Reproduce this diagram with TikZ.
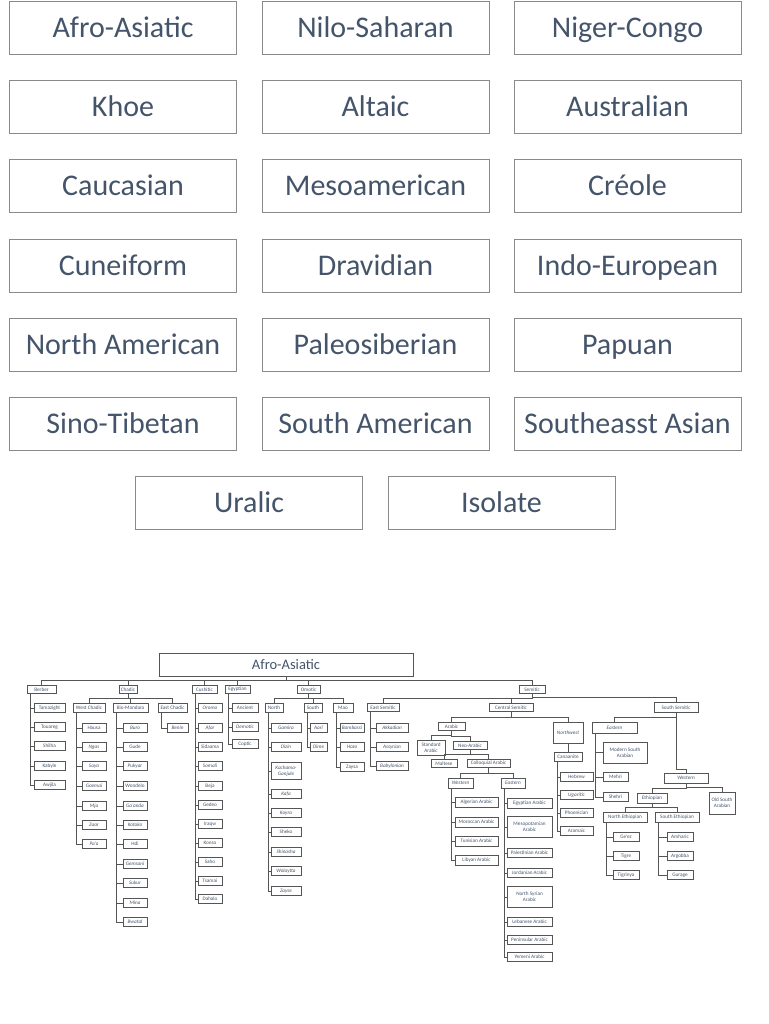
\documentclass[tikz,border=0pt]{standalone}
\usepackage{fontspec}
\setmainfont{Carlito}
\usepackage{tikz}
\usetikzlibrary{calc}
\definecolor{ink}{HTML}{44546A}
\definecolor{famline}{HTML}{8A8A8A}
\definecolor{treeline}{HTML}{555555}
\tikzset{
   fam/.style={draw=famline, line width=1pt, minimum width=227, minimum height=53,
      text height=23, text depth=4, font=\fontsize{30}{36}\selectfont, text=ink},
   top/.style={draw=treeline, line width=1pt, minimum width=254, minimum height=23,
      font=\fontsize{14.5}{17}\selectfont, text=ink},
   lang/.style={draw=treeline, line width=0.8pt, inner sep=0.5pt, minimum height=8.5,
      font=\fontsize{5.2}{6}\selectfont, text=ink, align=center},
   it/.style={lang, font=\fontsize{5.2}{6}\selectfont\itshape},
   link/.style={draw=treeline, line width=0.8pt},
   bus/.style={to path={(\tikztostart.south) |- ($(\tikztotarget.north)+(0,-4.5)$) -| (\tikztotarget.north)}},
   trunk/.style={to path={([xshift=4]\tikztostart.south west) |- (\tikztotarget.west)}}
}
\begin{document}
\begin{tikzpicture}[x=1pt,y=-1pt]
   \useasboundingbox (0,0) rectangle (768,1024);
   \node[fam] (afro) at (123,28.5) {Afro-Asiatic};
   \node[fam] (nilo) at (375.5,28.5) {Nilo-Saharan};
   \node[fam] (niger) at (627.5,28.5) {Niger-Congo};
   \node[fam] (khoe) at (123,107.5) {Khoe};
   \node[fam] (altaic) at (375.5,107.5) {Altaic};
   \node[fam] (austral) at (627.5,107.5) {Australian};
   \node[fam] (caucas) at (123,186.5) {Caucasian};
   \node[fam] (mesoam) at (375.5,186.5) {Mesoamerican};
   \node[fam] (creole) at (627.5,186.5) {Créole};
   \node[fam] (cunei) at (123,265.5) {Cuneiform};
   \node[fam] (dravid) at (375.5,265.5) {Dravidian};
   \node[fam] (indoeu) at (627.5,265.5) {Indo-European};
   \node[fam] (northam) at (123,344.5) {North American};
   \node[fam] (paleo) at (375.5,344.5) {Paleosiberian};
   \node[fam] (papuan) at (627.5,344.5) {Papuan};
   \node[fam] (sino) at (123,423.5) {Sino-Tibetan};
   \node[fam] (southam) at (375.5,423.5) {South American};
   \node[fam] (seasian) at (627.5,423.5) {Southeasst Asian};
   \node[fam] (uralic) at (249,502.5) {Uralic};
   \node[fam] (isolate) at (501.5,502.5) {Isolate};

   \node[top] (aa) at (286,664.5) {Afro-Asiatic};
   \node[lang,minimum width=29] (berber) at (41.5,689.5) {Berber};
   \node[lang,minimum width=18] (chadic) at (128,689.5) {Chadic};
   \node[lang,minimum width=25] (cushitic) at (204.5,689.5) {Cushitic};
   \node[lang,minimum width=25] (egyptian) at (237.5,689.5) {Egyptian};
   \node[lang,minimum width=23] (omotic) at (308.5,689.5) {Omotic};
   \node[lang,minimum width=26] (semitic) at (532,689.5) {Semitic};

   \node[lang,minimum width=31] (tamazight) at (49.5,708) {Tamazight};
   \node[lang,minimum width=31] (touareg) at (49.5,727) {Touareg};
   \node[lang,minimum width=31] (shilha) at (49.5,746) {Shilha};
   \node[lang,minimum width=31] (kabyle) at (49.5,766) {Kabyle};
   \node[lang,minimum width=31] (awjila) at (49.5,785) {Awjila};

   \node[lang,minimum width=32] (wchadic) at (89,708) {West Chadic};
   \node[lang,minimum width=35] (biomandara) at (130.5,708) {Bio-Mandara};
   \node[lang,minimum width=29] (echadic) at (172.5,708) {East Chadic};
   \node[lang,minimum width=24] (hausa) at (94,728) {Hausa};
   \node[it,minimum width=24] (ngas) at (94,747) {Ngas};
   \node[it,minimum width=24] (saya) at (94,766) {Saya};
   \node[it,minimum width=24] (goemai) at (94,786) {Goemai};
   \node[it,minimum width=24] (mja) at (94,806) {Mja};
   \node[it,minimum width=24] (zaar) at (94,825) {Zaar};
   \node[it,minimum width=24] (paa) at (94,844) {Pa'a};
   \node[it,minimum width=24] (buro) at (135,728) {Buro};
   \node[lang,minimum width=24] (gude) at (135,747) {Gude};
   \node[it,minimum width=24] (pukyar) at (135,766) {Pukyar};
   \node[lang,minimum width=24] (wondelo) at (135,786) {Wondelo};
   \node[it,minimum width=24] (gaanda) at (135,806) {Ga'anda};
   \node[it,minimum width=24] (kotoko) at (135,825) {Kotoko};
   \node[lang,minimum width=24] (hdi) at (135,844) {Hdi};
   \node[it,minimum width=24] (gemsani) at (135,864) {Gemsani};
   \node[it,minimum width=24] (sukur) at (135,883) {Sukur};
   \node[it,minimum width=24] (mina) at (135,903) {Mina};
   \node[it,minimum width=24] (bwatal) at (135,922) {Bwatal};
   \node[it,minimum width=21] (benin) at (177.5,728) {Benin};

   \node[it,minimum width=24] (oromo) at (210,708) {Oromo};
   \node[it,minimum width=24] (afar) at (210,728) {Afar};
   \node[lang,minimum width=24] (sidaama) at (210,747) {Sidaama};
   \node[it,minimum width=24] (somali) at (210,766) {Somali};
   \node[lang,minimum width=24] (beja) at (210,786) {Beja};
   \node[lang,minimum width=24] (gedeo) at (210,805) {Gedeo};
   \node[lang,minimum width=24] (iraqw) at (210,824) {Iraqw};
   \node[lang,minimum width=24] (konso) at (210,843) {Konso};
   \node[lang,minimum width=24] (saho) at (210,862) {Saho};
   \node[lang,minimum width=24] (tsamai) at (210,881) {Tsamai};
   \node[lang,minimum width=24] (dahalo) at (210,899) {Dahalo};

   \node[lang,minimum width=26] (ancient) at (245,708) {Ancient};
   \node[it,minimum width=26] (demotic) at (245,727) {Demotic};
   \node[lang,minimum width=26] (coptic) at (245,744) {Coptic};

   \node[lang,minimum width=18] (north) at (274,708) {North};
   \node[lang,minimum width=18] (south) at (313,708) {South};
   \node[lang,minimum width=20] (mao) at (343,708) {Mao};
   \node[it,minimum width=30] (gamira) at (286,728) {Gamira};
   \node[it,minimum width=30] (dizin) at (286,747) {Dizin};
   \node[it,minimum width=30,minimum height=17] (kachama) at (286,771) {Kachama-\\Ganjule};
   \node[it,minimum width=30] (kafa) at (286,794) {Kafa};
   \node[it,minimum width=30] (koyra) at (286,813) {Koyra};
   \node[lang,minimum width=30] (sheko) at (286,832) {Sheko};
   \node[it,minimum width=30] (shinasha) at (286,852) {Shinasha};
   \node[it,minimum width=30] (wolaytta) at (286,871) {Wolaytta};
   \node[it,minimum width=30] (zayse) at (286,891) {Zayse};
   \node[it,minimum width=17] (aari) at (318.5,728) {Aari};
   \node[it,minimum width=17] (dime) at (318.5,747) {Dime};
   \node[it,minimum width=24] (bambassi) at (352,728) {Bambassi};
   \node[it,minimum width=24] (hozo) at (352,747) {Hozo};
   \node[lang,minimum width=24] (zaysa) at (352,767) {Zaysa};

   \node[lang,minimum width=32] (esemitic) at (383,707.5) {East Semitic};
   \node[lang,minimum width=44] (csemitic) at (511,707.5) {Central Semitic};
   \node[lang,minimum width=44,minimum height=10] (ssemitic) at (676,707.5) {South Semitic};
   \node[it,minimum width=32] (akkadian) at (392,728) {Akkadian};
   \node[it,minimum width=32] (assyrian) at (392,747) {Assyrian};
   \node[it,minimum width=32] (babylonian) at (392,766) {Babylonian};

   \node[lang,minimum width=27] (arabic) at (451.5,726.5) {Arabic};
   \node[it,minimum width=30,minimum height=21] (northwest) at (568,732.5) {Northwest};
   \node[lang,minimum width=28,minimum height=15] (stdarabic) at (431,748) {Standard\\Arabic};
   \node[lang,minimum width=34] (neoarabic) at (470,745.5) {Neo-Arabic};
   \node[lang,minimum width=26] (maltese) at (444,763.5) {Maltese};
   \node[lang,minimum width=43] (colloquial) at (488.5,763.5) {Colloquial Arabic};
   \node[it,minimum width=25,minimum height=10] (western) at (460.5,783) {Western};
   \node[it,minimum width=24,minimum height=10] (eastern) at (513,783) {Eastern};
   \node[lang,minimum width=43,minimum height=10] (algerian) at (476.5,802) {Algerian Arabic};
   \node[lang,minimum width=43,minimum height=10] (moroccan) at (476.5,822) {Moroccan Arabic};
   \node[lang,minimum width=43,minimum height=10] (tunisian) at (476.5,841) {Tunisian Arabic};
   \node[lang,minimum width=43,minimum height=10] (libyan) at (476.5,860) {Libyan Arabic};
   \node[lang,minimum width=45,minimum height=10] (egyarabic) at (529.5,803) {Egyptian Arabic};
   \node[lang,minimum width=45,minimum height=21] (mesopot) at (529.5,827) {Mesopotamian\\Arabic};
   \node[lang,minimum width=45] (palestin) at (529.5,853) {Palestinian Arabic};
   \node[lang,minimum width=45] (jordan) at (529.5,873) {Jordanian Arabic};
   \node[lang,minimum width=45,minimum height=21] (nsyrian) at (529.5,897) {North Syrian\\Arabic};
   \node[lang,minimum width=45] (lebanese) at (529.5,922) {Lebanese Arabic};
   \node[lang,minimum width=45] (peninsul) at (529.5,940) {Peninsular Arabic};
   \node[lang,minimum width=45] (yemeni) at (529.5,957) {Yemeni Arabic};

   \node[lang,minimum width=28] (canaanite) at (568,757) {Canaanite};
   \node[lang,minimum width=33] (hebrew) at (576.5,777) {Hebrew};
   \node[it,minimum width=33] (ugaritic) at (576.5,795) {Ugaritic};
   \node[lang,minimum width=33] (phoenic) at (576.5,813) {Phoenician};
   \node[lang,minimum width=33] (aramaic) at (576.5,831) {Aramaic};

   \node[it,minimum width=45,minimum height=11] (sseastern) at (614.5,727.5) {Eastern};
   \node[it,minimum width=44,minimum height=10] (sswestern) at (686,778) {Western};
   \node[lang,minimum width=44,minimum height=21] (msarabian) at (625,752.5) {Modern South\\Arabian};
   \node[lang,minimum width=25] (mehri) at (615.5,777) {Mehri};
   \node[lang,minimum width=25] (shehri) at (615.5,797) {Shehri};
   \node[lang,minimum width=30,minimum height=10] (ethiopian) at (652,798) {Ethiopian};
   \node[lang,minimum width=26,minimum height=22] (osarabian) at (722,803) {Old South\\Arabian};
   \node[lang,minimum width=44,minimum height=10] (nethiop) at (625,817.5) {North Ethiopian};
   \node[lang,minimum width=44,minimum height=10] (sethiop) at (677,817.5) {South Ethiopian};
   \node[lang,minimum width=26] (geez) at (626,837) {Ge'ez};
   \node[lang,minimum width=26] (tigre) at (626,856) {Tigre};
   \node[lang,minimum width=26] (tigrinya) at (626,875) {Tigrinya};
   \node[lang,minimum width=26] (amharic) at (680,837) {Amharic};
   \node[lang,minimum width=26] (argobba) at (680,856) {Argobba};
   \node[lang,minimum width=26] (gurage) at (680,875) {Gurage};

   \draw[link] (aa) edge[bus] (berber) edge[bus] (chadic) edge[bus] (cushitic)
      edge[bus] (egyptian) edge[bus] (omotic) edge[bus] (semitic);
   \draw[link] (berber) edge[trunk] (tamazight) edge[trunk] (touareg) edge[trunk] (shilha)
      edge[trunk] (kabyle) edge[trunk] (awjila);
   \draw[link] (chadic) edge[bus] (wchadic) edge[bus] (biomandara) edge[bus] (echadic);
   \draw[link] (wchadic) edge[trunk] (hausa) edge[trunk] (ngas) edge[trunk] (saya)
      edge[trunk] (goemai) edge[trunk] (mja) edge[trunk] (zaar) edge[trunk] (paa);
   \draw[link] (biomandara) edge[trunk] (buro) edge[trunk] (gude) edge[trunk] (pukyar)
      edge[trunk] (wondelo) edge[trunk] (gaanda) edge[trunk] (kotoko) edge[trunk] (hdi)
      edge[trunk] (gemsani) edge[trunk] (sukur) edge[trunk] (mina) edge[trunk] (bwatal);
   \draw[link] (echadic) edge[trunk] (benin);
   \draw[link] (cushitic) edge[trunk] (oromo) edge[trunk] (afar) edge[trunk] (sidaama)
      edge[trunk] (somali) edge[trunk] (beja) edge[trunk] (gedeo) edge[trunk] (iraqw)
      edge[trunk] (konso) edge[trunk] (saho) edge[trunk] (tsamai) edge[trunk] (dahalo);
   \draw[link] (egyptian) edge[trunk] (ancient) edge[trunk] (demotic) edge[trunk] (coptic);
   \draw[link] (omotic) edge[bus] (north) edge[bus] (south) edge[bus] (mao);
   \draw[link] (north) edge[trunk] (gamira) edge[trunk] (dizin) edge[trunk] (kachama)
      edge[trunk] (kafa) edge[trunk] (koyra) edge[trunk] (sheko) edge[trunk] (shinasha)
      edge[trunk] (wolaytta) edge[trunk] (zayse);
   \draw[link] (south) edge[trunk] (aari) edge[trunk] (dime);
   \draw[link] (mao) edge[trunk] (bambassi) edge[trunk] (hozo) edge[trunk] (zaysa);
   \draw[link] (semitic) edge[bus] (esemitic) edge[bus] (csemitic) edge[bus] (ssemitic);
   \draw[link] (esemitic) edge[trunk] (akkadian) edge[trunk] (assyrian) edge[trunk] (babylonian);
   \draw[link] (csemitic) edge[bus] (arabic) edge[bus] (northwest);
   \draw[link] (arabic) edge[bus] (stdarabic) edge[bus] (neoarabic);
   \draw[link] (neoarabic) edge[bus] (maltese) edge[bus] (colloquial);
   \draw[link] (colloquial) edge[bus] (western) edge[bus] (eastern);
   \draw[link] (western) edge[trunk] (algerian) edge[trunk] (moroccan) edge[trunk] (tunisian)
      edge[trunk] (libyan);
   \draw[link] (eastern) edge[trunk] (egyarabic) edge[trunk] (mesopot) edge[trunk] (palestin)
      edge[trunk] (jordan) edge[trunk] (nsyrian) edge[trunk] (lebanese) edge[trunk] (peninsul)
      edge[trunk] (yemeni);
   \draw[link] (northwest.south) -- (canaanite.north);
   \draw[link] (canaanite) edge[trunk] (hebrew) edge[trunk] (ugaritic) edge[trunk] (phoenic)
      edge[trunk] (aramaic);
   \draw[link] (ssemitic) edge[bus] (sseastern);
   \draw[link] (ssemitic.south) -- ++(0,56) -| (sswestern.north);
   \draw[link] (sseastern) edge[trunk] (msarabian) edge[trunk] (mehri) edge[trunk] (shehri);
   \draw[link] (sswestern) edge[bus] (ethiopian) edge[bus] (osarabian);
   \draw[link] (ethiopian) edge[bus] (nethiop) edge[bus] (sethiop);
   \draw[link] (nethiop) edge[trunk] (geez) edge[trunk] (tigre) edge[trunk] (tigrinya);
   \draw[link] (sethiop) edge[trunk] (amharic) edge[trunk] (argobba) edge[trunk] (gurage);
\end{tikzpicture}
\end{document}
